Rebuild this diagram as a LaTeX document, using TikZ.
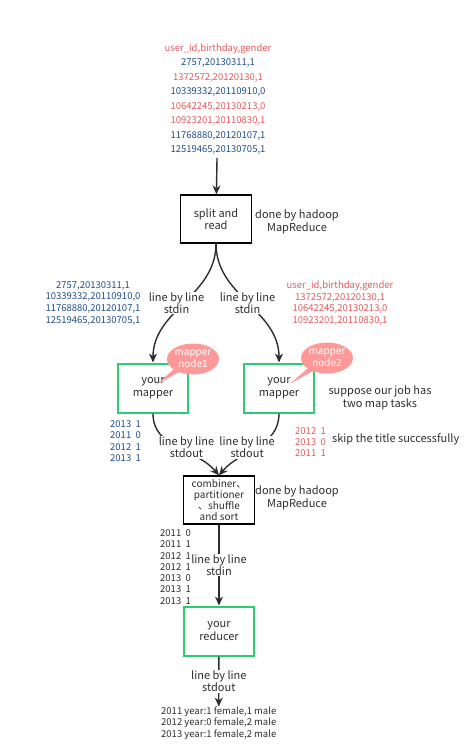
\documentclass[tikz,border=0pt]{standalone}
\usepackage{fontspec}
\setmainfont{Noto Sans CJK SC}
\usetikzlibrary{arrows.meta,shapes.callouts}

\definecolor{ink}{RGB}{45,45,45}
\definecolor{redtext}{RGB}{232,88,91}
\definecolor{bluetext}{RGB}{30,77,140}
\definecolor{mapgreen}{RGB}{46,204,113}
\definecolor{bubblepink}{RGB}{255,153,153}

\begin{document}
\begin{tikzpicture}[x=1pt,y=-1pt,
		every node/.style={font=\fontsize{11}{12.5}\selectfont, text=ink, align=center},
		stepbox/.style={draw=black, line width=1.3pt, minimum width=71, minimum height=48, inner sep=1pt},
		workbox/.style={draw=mapgreen, line width=2pt, minimum width=70, minimum height=49},
		flow/.style={draw=ink, line width=1.4pt, -{Stealth[length=9pt,width=8pt]}},
		lbl/.style={fill=white, inner sep=1pt, font=\fontsize{11}{11.8}\selectfont},
		bubble/.style={ellipse callout, fill=bubblepink, text=white, inner sep=0pt, minimum width=52, minimum height=31,
			callout relative pointer={(-20pt,-14pt)}, font=\fontsize{10}{11.5}\selectfont},
		nums/.style={font=\fontsize{9.5}{11.7}\selectfont},
		list/.style={font=\fontsize{9.5}{11.3}\selectfont, align=left, anchor=west, inner sep=0pt}]
		
		\useasboundingbox (0,0) rectangle (465,756);
		
		\node[nums, font=\fontsize{9.5}{14.5}\selectfont] (rows) at (218,99) {\textcolor{redtext}{user\_id,birthday,gender}\\
			\textcolor{bluetext}{2757,20130311,1}\\
			\textcolor{redtext}{1372572,20120130,1}\\
			\textcolor{bluetext}{10339332,20110910,0}\\
			\textcolor{redtext}{10642245,20130213,0}\\
			\textcolor{redtext}{10923201,20110830,1}\\
			\textcolor{bluetext}{11768880,20120107,1}\\
			\textcolor{bluetext}{12519465,20130705,1}};
		
		\node[stepbox] (split) at (216,219) {split and\\read};
		\node (hadoop1) at (297,222) {done by hadoop\\MapReduce};
		
		\node[nums, text=bluetext] (part1) at (93,303) {2757,20130311,1\\10339332,20110910,0\\11768880,20120107,1\\12519465,20130705,1};
		\node[nums, text=redtext] (part2) at (340,303) {user\_id,birthday,gender\\1372572,20120130,1\\10642245,20130213,0\\10923201,20110830,1};
		
		\node[workbox] (map1) at (153,388) {your\\mapper};
		\node[workbox] (map2) at (279,388) {your\\mapper};
		\node[bubble] (node1) at (193,359) {mapper\\node1};
		\node[bubble] (node2) at (327,358) {mapper\\node2};
		\node (tasks) at (380,398) {suppose our job has\\two map tasks};
		
		\node[list, text=bluetext] (out1) at (110,441) {2013~~1\\2011~~0\\2012~~1\\2013~~1};
		\node[list, text=redtext] (out2) at (295,442) {2012~~1\\2013~~0\\2011~~1};
		\node[anchor=west, inner sep=0pt] (skip) at (332,439) {skip the title successfully};
		
		\node[stepbox, font=\fontsize{10}{10.8}\selectfont] (comb) at (219,500) {combiner、\\partitioner\\、shuffle\\and sort};
		\node (hadoop2) at (297,498) {done by hadoop\\MapReduce};
		
		\node[list] (sorted) at (160,567) {2011~~0\\2011~~1\\2012~~1\\2012~~1\\2013~~0\\2013~~1\\2013~~1};
		\node[workbox] (reduce) at (219,631) {your\\reducer};
		\node[list] (result) at (161,723) {2011 year:1 female,1 male\\2012 year:0 female,2 male\\2013 year:1 female,2 male};
		
		\draw[flow] (rows) -- (split);
		\draw[flow] (split.south) to[out=-90,in=90] node[lbl,xshift=-8]{line by line\\stdin} (map1.north);
		\draw[flow] (split.south) to[out=-90,in=90] node[lbl]{line by line\\stdin} (map2.north);
		\draw[flow] (map1.south) to[out=-90,in=130] node[lbl,xshift=9]{line by line\\stdout} (comb.north);
		\draw[flow] (map2.south) to[out=-90,in=50] node[lbl,xshift=-10]{line by line\\stdout} (comb.north);
		\draw[flow] (comb) -- node[lbl]{line by line\\stdin} (reduce);
		\draw[flow] (reduce) -- node[lbl]{line by line\\stdout} (result.north);
		
	\end{tikzpicture}
\end{document}
